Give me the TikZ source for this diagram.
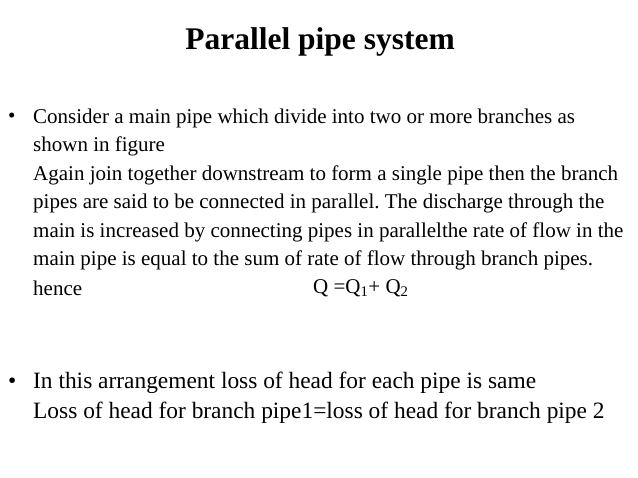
\documentclass[tikz,border=0pt]{standalone}
\usepackage{fontspec}
\setmainfont{Liberation Serif}
\frenchspacing
\begin{document}
\begin{tikzpicture}[x=1pt,y=-1pt,
  body/.style={anchor=west,inner sep=0pt,font=\fontsize{21}{21}\selectfont},
  bodyb/.style={anchor=west,inner sep=0pt,font=\fontsize{23.4}{23.4}\selectfont}]
\useasboundingbox (0,0) rectangle (638,478);
\node[inner sep=0pt,font=\fontsize{31.5}{31.5}\selectfont\bfseries] (title) at (320,42) {Parallel pipe system};
\node[body] (b1) at (8,118) {•};
\node[body] (l1) at (33,118) {Consider a main pipe which divide into two or more branches as};
\node[body] (l2) at (33,146) {shown in figure};
\node[body] (l3) at (33,175) {Again join together downstream to form a single pipe then the branch};
\node[body] (l4) at (33,203) {pipes are said to be connected in parallel. The discharge through the};
\node[body] (l5) at (33,232) {main is increased by connecting pipes in parallelthe rate of flow in the};
\node[body] (l6) at (33,260) {main pipe is equal to the sum of rate of flow through branch pipes.};
\node[body] (l7) at (33,288) {hence};
\node[body] (eq) at (313,288) {Q =Q\textsubscript{1}+ Q\textsubscript{2}};
\node[bodyb] (b2) at (8,383) {•};
\node[bodyb] (m1) at (33,383) {In this arrangement loss of head for each pipe is same};
\node[bodyb] (m2) at (33,413) {Loss of head for branch pipe1=loss of head for branch pipe 2};
\end{tikzpicture}
\end{document}
